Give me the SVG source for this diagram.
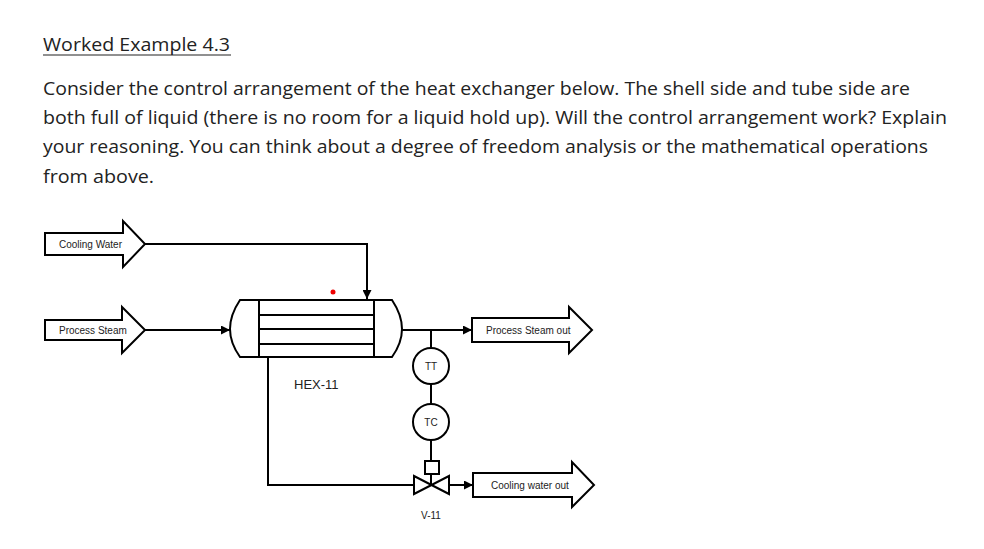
<svg xmlns="http://www.w3.org/2000/svg" width="984" height="549" viewBox="0 0 984 549">
<defs>
<marker id="ah" viewBox="0 0 10 10" refX="10" refY="5" markerWidth="9" markerHeight="9" markerUnits="userSpaceOnUse" orient="auto"><path d="M0,0 L10,5 L0,10 Z" fill="#000"/></marker>
<style>
.t{font-family:"Open Sans","Liberation Sans",sans-serif;font-size:18.5px;fill:#222}
.s{font-family:"Liberation Sans",sans-serif;font-size:10px;fill:#222}
.ln{fill:none;stroke:#000;stroke-width:2}
.sh{fill:#fff;stroke:#000;stroke-width:2}
</style>
</defs>
<rect width="984" height="549" fill="#fff"/>
<text class="t" x="43" y="51" textLength="187" lengthAdjust="spacingAndGlyphs">Worked Example 4.3</text>
<line x1="43" y1="55" x2="231" y2="55" stroke="#222" stroke-width="1.2"/>
<text class="t" x="43" y="95" textLength="867" lengthAdjust="spacingAndGlyphs">Consider the control arrangement of the heat exchanger below. The shell side and tube side are</text>
<text class="t" x="43" y="124" textLength="904" lengthAdjust="spacingAndGlyphs">both full of liquid (there is no room for a liquid hold up). Will the control arrangement work? Explain</text>
<text class="t" x="43" y="153" textLength="885" lengthAdjust="spacingAndGlyphs">your reasoning. You can think about a degree of freedom analysis or the mathematical operations</text>
<text class="t" x="43" y="183" textLength="111" lengthAdjust="spacingAndGlyphs">from above.</text>

<g id="cooling-water">
<path class="sh" d="M45,233 H123 V221 L145,244 L123,267 V255 H45 Z"/>
<text class="s" x="59" y="248">Cooling Water</text>
</g>
<g id="process-steam">
<path class="sh" d="M45,320 H122 V307 L145,330 L122,353 V340 H45 Z"/>
<text class="s" x="59" y="334">Process Steam</text>
</g>
<g id="hex-11">
<path class="sh" d="M240,300 H392 Q402,315 402,329 Q402,343 392,357 H240 Q230,343 230,329 Q230,315 240,300 Z"/>
<line class="ln" x1="259" y1="300" x2="259" y2="357"/>
<line class="ln" x1="374" y1="300" x2="374" y2="357"/>
<line class="ln" x1="259" y1="315" x2="374" y2="315"/>
<line class="ln" x1="259" y1="329" x2="374" y2="329"/>
<line class="ln" x1="259" y1="344" x2="374" y2="344"/>
<circle cx="333" cy="292" r="2.5" fill="#e00"/>
<text x="294" y="389" font-family="Liberation Sans,sans-serif" font-size="13" fill="#222">HEX-11</text>
</g>
<g id="process-steam-out">
<path class="sh" d="M472,318 H569 V307 L592,330 L569,353 V342 H472 Z"/>
<text class="s" x="486" y="334">Process Steam out</text>
</g>
<g id="cooling-water-out">
<path class="sh" d="M473,473 H572 V462 L594,485 L572,507 V497 H473 Z"/>
<text class="s" x="491" y="489" font-size="9.5">Cooling water out</text>
</g>
<g id="tt">
<circle class="sh" cx="431" cy="366" r="18"/>
<text class="s" x="431" y="370" text-anchor="middle" font-size="9">TT</text>
</g>
<g id="tc">
<circle class="sh" cx="431" cy="422" r="18"/>
<text class="s" x="431" y="426" text-anchor="middle" font-size="9">TC</text>
</g>
<g id="v-11">
<rect class="sh" x="425" y="461" width="14" height="13"/>
<path class="sh" d="M414,476 L449,494 L449,476 L414,494 Z"/>
<line class="ln" x1="431" y1="474" x2="431" y2="485"/>
<text class="s" x="431" y="519" text-anchor="middle">V-11</text>
</g>
<g id="connectors">
<path class="ln" d="M145,244 H367 V299" marker-end="url(#ah)"/>
<path class="ln" d="M145,330 H230" marker-end="url(#ah)"/>
<path class="ln" d="M402,330 H472" marker-end="url(#ah)"/>
<path class="ln" d="M268,357 V485 H414"/>
<path class="ln" d="M449,485 H473" marker-end="url(#ah)"/>
<line class="ln" x1="431" y1="330" x2="431" y2="348"/>
<line class="ln" x1="431" y1="384" x2="431" y2="404"/>
<line class="ln" x1="431" y1="440" x2="431" y2="461"/>
</g>
</svg>
